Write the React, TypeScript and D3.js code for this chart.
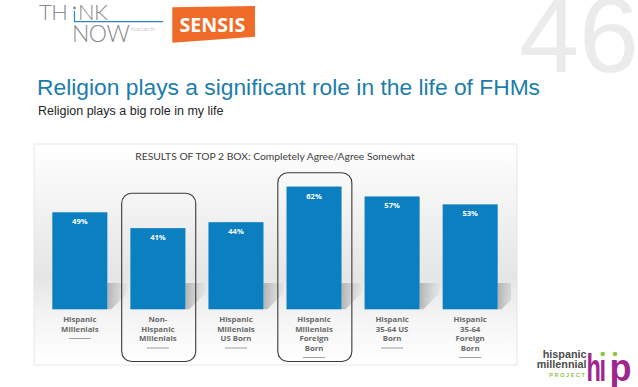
import React from "react";
import * as d3 from "d3";

// chart data
const categories = [
  "Hispanic Millenials",
  "Non-Hispanic Millenials",
  "Hispanic Millenials US Born",
  "Hispanic Millenials Foreign Born",
  "Hispanic 35-64 US Born",
  "Hispanic 35-64 Foreign Born",
];
const labelLines = [
  ["Hispanic", "Millenials"],
  ["Non-", "Hispanic", "Millenials"],
  ["Hispanic", "Millenials", "US Born"],
  ["Hispanic", "Millenials", "Foreign", "Born"],
  ["Hispanic", "35-64 US", "Born"],
  ["Hispanic", "35-64", "Foreign", "Born"],
];
const values = [49, 41, 44, 62, 57, 53];
const highlighted = ["Non-Hispanic Millenials", "Hispanic Millenials Foreign Born"];

const W = 638;
const H = 387;
const chartFont = "Lato, 'Open Sans', sans-serif";
const labelFont = "'Open Sans', Lato, sans-serif";
const arial = "'Liberation Sans', Arial, sans-serif";
const barColor = "#0b7fbf";

// layout
const panel = { x: 34, y: 144, w: 483, h: 221 };
const baseY = 309.3;
const boxTops: Record<string, number> = {
  "Non-Hispanic Millenials": 193.3,
  "Hispanic Millenials Foreign Born": 172.7,
};

export default function App() {
  const x = d3
    .scaleBand<string>()
    .domain(categories)
    .range([40.8, 509.2])
    .paddingInner(0.295)
    .paddingOuter(0.1475);
  const y = d3.scaleLinear().domain([0, 100]).range([baseY, 111.3]);
  const bw = x.bandwidth();

  return (
    <svg
      width={W}
      height={H}
      style={{ position: "absolute", left: 0, top: 0, background: "#fff" }}
    >
      <defs>
        <linearGradient id="bg" x1="0" y1="0" x2="0" y2="1">
          <stop offset="0" stopColor="#ffffff" />
          <stop offset="0.3" stopColor="#f2f2f2" />
          <stop offset="0.6" stopColor="#e5e5e5" />
          <stop offset="0.78" stopColor="#f4f4f4" />
          <stop offset="1" stopColor="#ffffff" />
        </linearGradient>
        <linearGradient id="shadow" x1="0" y1="0" x2="1" y2="0">
          <stop offset="0" stopColor="#a9a9a9" stopOpacity="0.85" />
          <stop offset="1" stopColor="#c8c8c8" stopOpacity="0.2" />
        </linearGradient>
        <clipPath id="panelClip">
          <rect x={panel.x} y={panel.y} width={panel.w - 6} height={panel.h} />
        </clipPath>
      </defs>

      {/* header */}
      <text x={519} y={72} fontFamily={arial} fontSize={108} fill="#ebebeb">
        46
      </text>
      <g fontFamily={chartFont} fontWeight={300} fill="#8a8a8a">
        <text x={39} y={19.5} fontSize={22} letterSpacing={-0.5}>TH</text>
        <text x={78} y={19.5} fontSize={22} letterSpacing={-0.5}>NK</text>
        <circle cx={74.5} cy={8} r={1.4} fill="#8a8a8a" />
        <text x={72} y={42} fontSize={23} letterSpacing={-0.5}>NOW</text>
        <text x={131} y={31} fontSize={6.5} fill="#9a9a9a">research</text>
      </g>
      <path d="M74.5,11 V21.7 H163" fill="none" stroke="#2b86c5" strokeWidth={1.2} />
      <polygon points="172.3,7.3 255,6 255,36.7 172.3,42.7" fill="#ef6b27" />
      <text x={179.5} y={31.5} fontFamily={labelFont} fontWeight={700} fontSize={19.6} fill="#fff">
        SENSIS
      </text>

      <text x={37} y={95} fontFamily={arial} fontSize={22.8} fill="#1b7daa">
        Religion plays a significant role in the life of FHMs
      </text>
      <text x={38} y={115} fontFamily={arial} fontSize={12.5} fill="#262626">
        Religion plays a big role in my life
      </text>

      {/* chart panel */}
      <rect x={panel.x} y={panel.y} width={panel.w} height={panel.h} fill="url(#bg)" stroke="#e2e2e2" strokeWidth={0.8} />
      <text x={275} y={160} textAnchor="middle" fontFamily={chartFont} fontSize={10.3} fill="#404040">
        RESULTS OF TOP 2 BOX: Completely Agree/Agree Somewhat
      </text>

      <g clipPath="url(#panelClip)">
        {categories.map((c) => {
          const x1 = (x(c) ?? 0) + bw;
          return (
            <polygon
              key={c}
              points={`${x1},283 ${x1 + 20},283 ${x1 + 20},293 ${x1 + 4},${baseY} ${x1},${baseY}`}
              fill="url(#shadow)"
            />
          );
        })}
      </g>

      {categories.map((c, i) => {
        const cx = (x(c) ?? 0) + bw / 2;
        const dashY = 319.5 + labelLines[i].length * 9.5;
        return (
          <g key={c}>
            <rect x={x(c)} y={y(values[i])} width={bw} height={baseY - y(values[i])} fill={barColor} />
            <text
              x={cx}
              y={y(values[i]) + 12}
              textAnchor="middle"
              fontFamily={labelFont}
              fontWeight={700}
              fontSize={7.6}
              fill="#fff"
            >
              {values[i]}%
            </text>
            {labelLines[i].map((l, j) => (
              <text
                key={j}
                x={cx}
                y={322 + j * 9.5}
                textAnchor="middle"
                fontFamily={labelFont}
                fontWeight={700}
                fontSize={7.8}
                fill="#6a6a6a"
              >
                {l}
              </text>
            ))}
            <line x1={cx - 11} x2={cx + 11} y1={dashY} y2={dashY} stroke="#777" strokeWidth={0.7} />
          </g>
        );
      })}

      {highlighted.map((c) => (
        <rect
          key={c}
          x={(x(c) ?? 0) - 8.7}
          y={boxTops[c]}
          width={bw + 19}
          height={361.5 - boxTops[c]}
          rx={10}
          fill="none"
          stroke="#3a3a3a"
          strokeWidth={1.1}
        />
      ))}

      {/* footer logo */}
      <g fontFamily={arial} fontWeight={700} fill="#4d4d4d" textAnchor="end">
        <text x={586.5} y={358.3} fontSize={10.8}>hispanic</text>
        <text x={586.5} y={367.8} fontSize={10.8}>millennial</text>
        <text x={586.5} y={377.3} fontSize={5.5} fill="#8dc63f" letterSpacing={1.6}>PROJECT</text>
      </g>
      <g fontFamily={arial} fontWeight={700} fontSize={38} fill="#a0268f">
        <text transform="translate(586.5,381) scale(0.62,1)">h</text>
        <text transform="translate(599.5,381) scale(0.62,1)">ı</text>
        <text transform="translate(609.5,381) scale(0.95,1)">p</text>
      </g>
      <circle cx={602.7} cy={354} r={2.3} fill="#8dc63f" />
      <circle cx={615} cy={354} r={2.3} fill="#8dc63f" />
    </svg>
  );
}
